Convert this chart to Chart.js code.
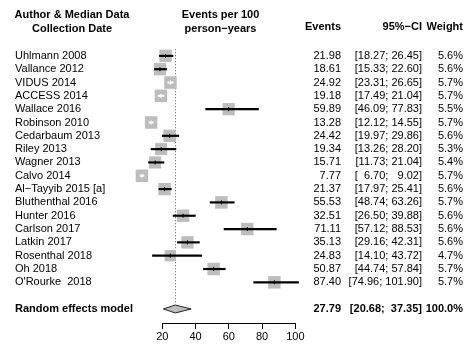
<!DOCTYPE html>
<html>
<head>
<meta charset="utf-8">
<script src="https://cdn.jsdelivr.net/npm/chart.js@4.4.0/dist/chart.umd.min.js"></script>
<style>
body { margin: 0; background: #fff; }
#wrap { width: 474px; height: 345px; }
</style>
</head>
<body>
<div id="wrap"><canvas id="forest" width="474" height="345"></canvas></div>
<script>
// Study rows, top to bottom
var studies = ['Uhlmann 2008', 'Vallance 2012', 'VIDUS 2014', 'ACCESS 2014', 'Wallace 2016',
    'Robinson 2010', 'Cedarbaum 2013', 'Riley 2013', 'Wagner 2013', 'Calvo 2014',
    'Al\u2212Tayyib 2015 [a]', 'Bluthenthal 2016', 'Hunter 2016', 'Carlson 2017', 'Latkin 2017',
    'Rosenthal 2018', 'Oh 2018', "O'Rourke  2018"];
var estimates = [21.98, 18.61, 24.92, 19.18, 59.89, 13.28, 24.42, 19.34, 15.71, 7.77,
    21.37, 55.53, 32.51, 71.11, 35.13, 24.83, 50.87, 87.40];
var lower = [18.27, 15.33, 23.31, 17.49, 46.09, 12.12, 19.97, 13.26, 11.73, 6.70,
    17.97, 48.74, 26.50, 57.12, 29.16, 14.10, 44.74, 74.96];
var upper = [26.45, 22.60, 26.65, 21.04, 77.83, 14.55, 29.86, 28.20, 21.04, 9.02,
    25.41, 63.26, 39.88, 88.53, 42.31, 43.72, 57.84, 101.90];
var weights = [5.6, 5.6, 5.7, 5.7, 5.5, 5.7, 5.6, 5.3, 5.4, 5.7,
    5.6, 5.7, 5.6, 5.6, 5.6, 4.7, 5.7, 5.7];

// Pooled estimate
var modelLabel = 'Random effects model';
var modelEst = 27.79;
var modelLower = 20.68;
var modelUpper = 37.35;
var modelWeight = 100.0;

var xTicks = [20, 40, 60, 80, 100];

var modelRow = studies.length + 1;
var FONT = '"Liberation Sans", Arial, Helvetica, sans-serif';

function boxSide(i) {
    return 12.5 * Math.sqrt(weights[i] / 5.7);
}

// CI line drawn white when it sits well inside the square
function insideBox(chart, i) {
    var x = chart.scales.x;
    if (!x || i === undefined) return false;
    return x.getPixelForValue(upper[i]) - x.getPixelForValue(lower[i]) < 0.85 * boxSide(i);
}

function padNum(v) {
    var s = v.toFixed(2);
    var out = s;
    for (var k = s.length; k < 5; k++) out = '  ' + out;
    return out;
}

function ciText(lo, hi) {
    return '[' + padNum(lo) + '; ' + padNum(hi) + ']';
}

var forestPlugin = {
    id: 'forestPlugin',
    beforeDatasetsDraw: function(chart) {
        var x = chart.scales.x, y = chart.scales.y, ctx = chart.ctx;
        var px = Math.round(x.getPixelForValue(modelEst)) + 0.5;
        ctx.save();
        ctx.strokeStyle = '#555';
        ctx.lineWidth = 1;
        ctx.setLineDash([1, 2]);
        ctx.beginPath();
        ctx.moveTo(px, y.getPixelForValue(-0.5));
        ctx.lineTo(px, y.getPixelForValue(studies.length + 0.5));
        ctx.stroke();
        ctx.restore();
    },
    afterDraw: function(chart) {
        var x = chart.scales.x, y = chart.scales.y, ctx = chart.ctx;
        ctx.save();

        // diamond for the pooled estimate
        var yd = y.getPixelForValue(modelRow);
        ctx.beginPath();
        ctx.moveTo(x.getPixelForValue(modelLower), yd);
        ctx.lineTo(x.getPixelForValue(modelEst), yd - 4);
        ctx.lineTo(x.getPixelForValue(modelUpper), yd);
        ctx.lineTo(x.getPixelForValue(modelEst), yd + 4);
        ctx.closePath();
        ctx.fillStyle = '#bdbdbd';
        ctx.fill();
        ctx.strokeStyle = '#222';
        ctx.lineWidth = 1;
        ctx.stroke();

        // axis line only over the tick range
        var ya = Math.round(chart.chartArea.bottom) + 0.5;
        ctx.beginPath();
        ctx.moveTo(x.getPixelForValue(xTicks[0]), ya);
        ctx.lineTo(x.getPixelForValue(xTicks[xTicks.length - 1]), ya);
        ctx.strokeStyle = '#000';
        ctx.stroke();

        // headers
        ctx.fillStyle = '#000';
        ctx.textBaseline = 'middle';
        ctx.font = 'bold 11px ' + FONT;
        ctx.textAlign = 'center';
        ctx.fillText('Author & Median Data', 72, 15);
        ctx.fillText('Collection Date', 72, 29);
        var mid = (chart.chartArea.left + chart.chartArea.right) / 2;
        ctx.fillText('Events per 100', mid, 15);
        ctx.fillText('person\u2212years', mid, 29);
        ctx.textAlign = 'right';
        ctx.fillText('Events', 341, 27);
        ctx.fillText('95%\u2212CI', 422, 27);
        ctx.fillText('Weight', 463, 27);

        // study columns
        ctx.font = '11px ' + FONT;
        studies.forEach(function(s, i) {
            var py = y.getPixelForValue(i);
            ctx.fillText(estimates[i].toFixed(2), 341, py);
            ctx.fillText(ciText(lower[i], upper[i]), 422, py);
            ctx.fillText(weights[i].toFixed(1) + '%', 463, py);
        });

        // pooled row
        ctx.font = 'bold 11px ' + FONT;
        ctx.fillText(modelEst.toFixed(2), 341, yd);
        ctx.fillText('[' + modelLower.toFixed(2) + ';  ' + modelUpper.toFixed(2) + ']', 422, yd);
        ctx.fillText(modelWeight.toFixed(1) + '%', 463, yd);
        ctx.textAlign = 'left';
        ctx.fillText(modelLabel, 15, yd);
        ctx.restore();
    }
};

var ctx = document.getElementById('forest').getContext('2d');
var forestChart = new Chart(ctx, {
    type: 'scatter',
    data: {
        datasets: [{
            type: 'bar',
            label: 'CI',
            indexAxis: 'y',
            data: studies.map(function(s, i) { return { y: i, x: [lower[i], upper[i]] }; }),
            barThickness: 1.5,
            backgroundColor: function(c) { return insideBox(c.chart, c.dataIndex) ? '#fff' : '#000'; },
            borderWidth: 0,
            order: 1
        }, {
            label: 'Estimate',
            data: studies.map(function(s, i) { return { x: estimates[i], y: i }; }),
            pointStyle: 'rect',
            pointRadius: function(c) { return c.dataIndex === undefined ? 8 : boxSide(c.dataIndex) / Math.SQRT2; },
            backgroundColor: '#bdbdbd',
            borderWidth: 0,
            order: 2
        }, {
            label: 'Tick',
            data: studies.map(function(s, i) { return { x: estimates[i], y: i }; }),
            pointStyle: 'line',
            rotation: 90,
            pointRadius: 2,
            borderWidth: 1,
            borderColor: function(c) { return insideBox(c.chart, c.dataIndex) ? '#fff' : '#000'; },
            order: 0
        }]
    },
    options: {
        responsive: false,
        animation: false,
        layout: { padding: { left: 15, right: 162, top: 34, bottom: 4 } },
        plugins: {
            legend: { display: false },
            tooltip: { enabled: false }
        },
        scales: {
            x: {
                type: 'linear',
                min: 0,
                max: 110,
                afterBuildTicks: function(axis) {
                    axis.ticks = xTicks.map(function(v) { return { value: v }; });
                },
                afterFit: function(axis) { axis.height = 18; },
                border: { display: false },
                grid: { drawOnChartArea: false, drawTicks: true, tickLength: 6, color: '#000' },
                ticks: { color: '#000', padding: 1, font: { family: FONT, size: 11 } }
            },
            y: {
                type: 'linear',
                reverse: true,
                min: -1.04,
                max: 19.45,
                afterBuildTicks: function(axis) {
                    axis.ticks = studies.map(function(s, i) { return { value: i }; });
                },
                afterFit: function(axis) { axis.width = 114; },
                border: { display: false },
                grid: { display: false },
                ticks: {
                    autoSkip: false,
                    crossAlign: 'far',
                    color: '#000',
                    callback: function(v) { return studies[v] || ''; },
                    font: { family: FONT, size: 11 }
                }
            }
        }
    },
    plugins: [forestPlugin]
});
</script>
</body>
</html>
